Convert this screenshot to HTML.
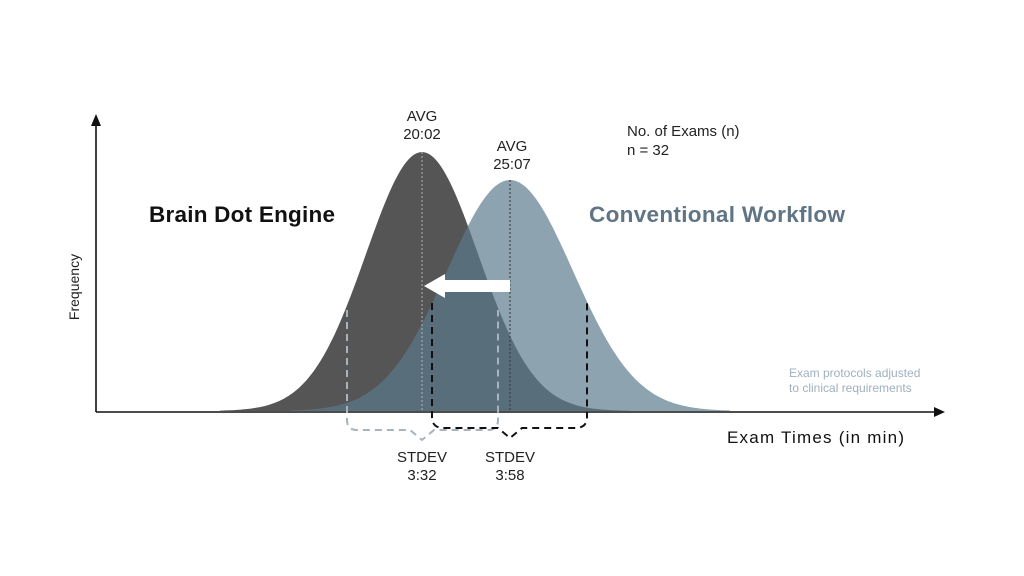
<!DOCTYPE html>
<html><head><meta charset="utf-8"><style>
html,body{margin:0;padding:0;background:#fff;}
svg{display:block;font-family:"Liberation Sans",sans-serif;}
</style></head><body>
<svg id="s" width="1024" height="576" viewBox="0 0 1024 576">
<path id="dark" fill="#555555"/>
<path id="blue" fill="rgb(92,121,141)" fill-opacity="0.69"/>
<line x1="96" y1="412" x2="936" y2="412" stroke="#111" stroke-width="1.6"/>
<polygon points="945,412 934,407 934,417" fill="#111"/>
<line x1="96" y1="412" x2="96" y2="124" stroke="#111" stroke-width="1.6"/>
<polygon points="96,114 91,126 101,126" fill="#111"/>
<line x1="422" y1="152" x2="422" y2="411" stroke="#aab4bd" stroke-width="1" stroke-dasharray="2,2"/>
<line x1="510" y1="180" x2="510" y2="411" stroke="#333" stroke-width="1" stroke-dasharray="2,2"/>
<rect x="440" y="280" width="70" height="12" fill="#fff"/>
<polygon points="424,286 445,274 445,298" fill="#fff"/>
<path d="M347,310 V420 Q347,430 357,430 H410 L422,440 L434,430 H488 Q498,430 498,420 V310" fill="none" stroke="#a7b3bd" stroke-width="2" stroke-dasharray="7,5"/>
<path d="M432,303 V417 Q432,428 444,428 H498 L510,438 L522,428 H575 Q587,428 587,417 V303" fill="none" stroke="#111" stroke-width="2" stroke-dasharray="7,5"/>
<text x="422" y="121" font-size="15" text-anchor="middle" fill="#222">AVG</text>
<text x="422" y="139" font-size="15" text-anchor="middle" fill="#222">20:02</text>
<text x="512" y="151" font-size="15" text-anchor="middle" fill="#222">AVG</text>
<text x="512" y="169" font-size="15" text-anchor="middle" fill="#222">25:07</text>
<text x="627" y="136" font-size="15" fill="#222">No. of Exams (n)</text>
<text x="627" y="155" font-size="15" fill="#222">n = 32</text>
<text x="149" y="222" font-size="22.5" font-weight="bold" fill="#111" textLength="186">Brain Dot Engine</text>
<text x="589" y="222" font-size="22.5" font-weight="bold" fill="#5f7485" textLength="256">Conventional Workflow</text>
<text x="789" y="377" font-size="12" fill="#9fb0be">Exam protocols adjusted</text>
<text x="789" y="392" font-size="12" fill="#9fb0be">to clinical requirements</text>
<text x="727" y="443" font-size="17" fill="#111" textLength="177">Exam Times (in min)</text>
<text x="422" y="462" font-size="15" text-anchor="middle" fill="#222">STDEV</text>
<text x="422" y="480" font-size="15" text-anchor="middle" fill="#222">3:32</text>
<text x="510" y="462" font-size="15" text-anchor="middle" fill="#222">STDEV</text>
<text x="510" y="480" font-size="15" text-anchor="middle" fill="#222">3:58</text>
<text transform="translate(79,287) rotate(-90)" font-size="14" text-anchor="middle" fill="#222">Frequency</text>
</svg>
<script>
function g(mu,s,peak,a,b){var base=411,d="M"+a+","+base;for(var x=a;x<=b;x+=2){var y=base-(base-peak)*Math.exp(-(x-mu)*(x-mu)/(2*s*s));d+=" L"+x+","+y.toFixed(1);}return d+" L"+b+","+base+" Z";}
document.getElementById("dark").setAttribute("d",g(422,56,152,220,630));
document.getElementById("blue").setAttribute("d",g(510,63,180,290,730));
</script>
</body></html>
